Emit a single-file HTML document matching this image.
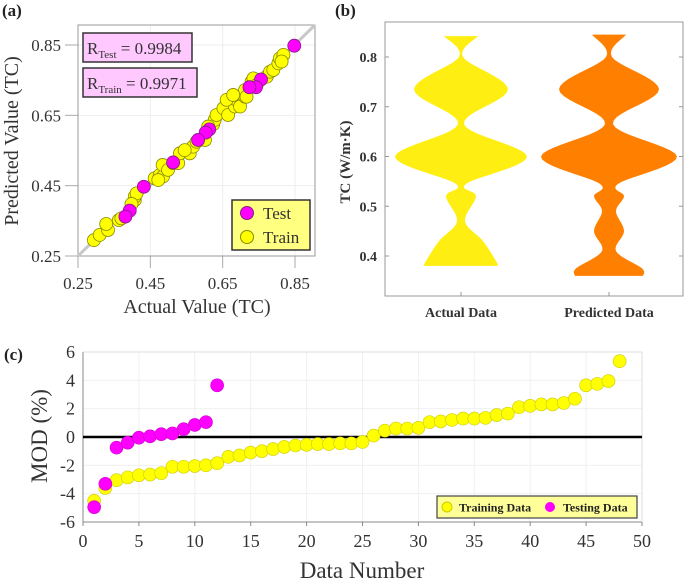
<!DOCTYPE html>
<html><head><meta charset="utf-8"><style>
html,body{margin:0;padding:0;background:#fff;}
svg{display:block;}
svg text{font-family:"Liberation Serif","DejaVu Serif",serif;}
</style></head><body>
<svg id="fig" width="685" height="581" viewBox="0 0 685 581" xmlns="http://www.w3.org/2000/svg" font-family="Liberation Serif, DejaVu Serif, serif">
<g id="pa"></g>
<g id="pb"></g>
<g id="pc"></g>
</svg>
<script>
// ---------- Panel A data ----------
const aTicks = [0.25, 0.45, 0.65, 0.85];
const aTestX = [0.848,0.756,0.742,0.724,0.613,0.603,0.582,0.513,0.432,0.393,0.381];
const aTestY = [0.848,0.752,0.730,0.730,0.610,0.601,0.580,0.516,0.447,0.379,0.362];
const aTrainX = [0.294,0.310,0.333,0.328,0.363,0.370,0.407,0.407,0.412,0.462,0.476,0.485,0.484,0.499,0.513,0.527,0.532,0.559,0.568,0.578,0.601,0.624,0.628,0.633,0.652,0.665,0.684,0.688,0.698,0.712,0.712,0.716,0.730,0.735,0.744,0.772,0.781,0.790,0.804,0.808,0.818,0.813,0.661,0.679,0.610,0.545,0.472,0.398];
const aTrainY = [0.295,0.310,0.324,0.341,0.352,0.357,0.409,0.419,0.428,0.471,0.480,0.476,0.509,0.495,0.514,0.514,0.542,0.542,0.561,0.575,0.580,0.625,0.637,0.651,0.670,0.651,0.675,0.694,0.675,0.703,0.722,0.703,0.746,0.755,0.736,0.760,0.774,0.779,0.798,0.812,0.822,0.803,0.694,0.708,0.618,0.551,0.466,0.398];
// ---------- Panel B data ----------
const bTicks = [0.4,0.5,0.6,0.7,0.8];
const bCats = ["Actual Data","Predicted Data"];
const bActualVals = [0.38,0.39,0.43,0.47,0.52,0.545,0.60,0.665,0.735,0.80,0.842];
const bActualDens = [37,35,22,4,15,5,66,3,47,2,17];
const bPredVals = [0.36,0.375,0.41,0.45,0.49,0.52,0.545,0.60,0.665,0.735,0.80,0.845];
const bPredDens = [34,33,7,15,7,15,9,68,4,50,3,17];
// ---------- Panel C data ----------
const cTicksX = [0,5,10,15,20,25,30,35,40,45,50];
const cTicksY = [6,4,2,0,-2,-4,-6];
const cTrain = [-4.5,-3.6,-3.05,-2.85,-2.7,-2.65,-2.55,-2.1,-2.1,-2.05,-2.0,-1.85,-1.4,-1.3,-1.1,-1.0,-0.85,-0.7,-0.6,-0.55,-0.5,-0.5,-0.45,-0.45,-0.35,0.1,0.45,0.6,0.6,0.65,1.05,1.1,1.2,1.3,1.3,1.35,1.55,1.65,2.1,2.2,2.3,2.3,2.4,2.7,3.65,3.75,3.95,5.35];
const cTest = [-4.95,-3.3,-0.75,-0.4,-0.05,0.05,0.2,0.25,0.55,0.85,1.05,3.65];

const NS="http://www.w3.org/2000/svg";
const SERIF="Liberation Serif, DejaVu Serif, serif";
function mk(parent,tag,attrs,text){const e=document.createElementNS(NS,tag);if(tag==='text')e.setAttribute('font-family',SERIF);for(const k in attrs)e.setAttribute(k,attrs[k]);if(text!==undefined)e.textContent=text;parent.appendChild(e);return e;}

// ===== Panel A =====
(function(){
const g=document.getElementById('pa');
const L=78,R=315,T=25,B=256;
const sx=v=>L+(v-0.25)/0.6*217, sy=v=>B-(v-0.25)/0.6*211;
aTicks.forEach(t=>{
 if(t>0.25){mk(g,'line',{x1:sx(t),x2:sx(t),y1:T,y2:B,stroke:'#eee','stroke-width':1});
 mk(g,'line',{x1:L,x2:R,y1:sy(t),y2:sy(t),stroke:'#eee','stroke-width':1});}
 mk(g,'line',{x1:sx(t),x2:sx(t),y1:B,y2:B+12,stroke:'#aaa'});
 mk(g,'line',{x1:L-13,x2:L,y1:sy(t),y2:sy(t),stroke:'#aaa'});
 const tx=mk(g,'text',{x:sx(t),y:B+33,'text-anchor':'middle','font-size':17,fill:'#333'},t.toFixed(2));
 
 
 const ty=mk(g,'text',{x:61,y:sy(t)+6,'text-anchor':'end','font-size':17,fill:'#333'},t.toFixed(2));
 
 
});
const fr=mk(g,'rect',{x:L,y:T,width:R-L,height:B-T,fill:'none',stroke:'#999','stroke-width':1});


const d=mk(g,'line',{x1:L,y1:B,x2:R,y2:T,stroke:'#c8c8c8','stroke-width':3});


aTrainX.forEach((x,i)=>{const c=mk(g,'circle',{cx:sx(x),cy:sy(aTrainY[i]),r:6.5,fill:'#ffff00',stroke:'#8a8a00','stroke-width':0.8});
 
 });
aTestX.forEach((x,i)=>{const c=mk(g,'circle',{cx:sx(x),cy:sy(aTestY[i]),r:6.5,fill:'#ff00ff',stroke:'#802080','stroke-width':0.8});
 
 });
[[33,'Test','0.9984',109],[68,'Train','0.9971',114]].forEach(b=>{
 const bx=mk(g,'g',{});
 
 
 mk(bx,'rect',{x:83,y:b[0],width:b[3],height:29,fill:'#ffc8ff',stroke:'#333','stroke-width':1.5});
 const t=mk(bx,'text',{x:87,y:b[0]+21,'font-size':17,fill:'#333'});
 mk(t,'tspan',{},'R');mk(t,'tspan',{'font-size':11,dy:4},b[1]);mk(t,'tspan',{dy:-4},' = '+b[2]);
});
const lg=mk(g,'g',{});


mk(lg,'rect',{x:232,y:200,width:78,height:50,fill:'#ffff80',stroke:'#333','stroke-width':1.5});
mk(lg,'circle',{cx:247,cy:213,r:6.5,fill:'#ff00ff',stroke:'#802080'});
mk(lg,'text',{x:263,y:219,'font-size':17,fill:'#333'},'Test');
mk(lg,'circle',{cx:247,cy:237,r:6.5,fill:'#ffff00',stroke:'#8a8a00'});
mk(lg,'text',{x:263,y:243,'font-size':17,fill:'#333'},'Train');
const xl=mk(g,'text',{x:197,y:313,'text-anchor':'middle','font-size':20,fill:'#333'},'Actual Value (TC)');


const yl=mk(g,'text',{x:0,y:0,'text-anchor':'middle','font-size':20,fill:'#333',transform:'translate(18,141) rotate(-90)'},'Predicted Value (TC)');


const pl=mk(g,'text',{x:2,y:16,'font-size':17,'font-weight':'bold',fill:'#222'},'(a)');


})();

// ===== Panel B =====
(function(){
const g=document.getElementById('pb');
const L=385,R=683,T=22,B=296;
const sy=v=>256-(v-0.4)*497.5;
const cx=[461,609];
const fr=mk(g,'rect',{x:L,y:T,width:R-L,height:B-T,fill:'none',stroke:'#999','stroke-width':1});


bTicks.forEach(t=>{
 mk(g,'line',{x1:L,x2:L+4,y1:sy(t),y2:sy(t),stroke:'#999'});
 mk(g,'line',{x1:R,x2:R-4,y1:sy(t),y2:sy(t),stroke:'#999'});
 const tx=mk(g,'text',{x:L-8,y:sy(t)+5,'text-anchor':'end','font-size':14,'font-weight':'bold',fill:'#333'},t.toFixed(1));
 
 
});
function violin(vals,dens,c,color,name){
 const pts=vals.map((v,i)=>[dens[i],sy(v)]);
 function side(sign){
  let p=[];
  for(let i=0;i<pts.length-1;i++){
   const p0=pts[Math.max(0,i-1)],p1=pts[i],p2=pts[i+1],p3=pts[Math.min(pts.length-1,i+2)];
   for(let s=0;s<10;s++){const t=s/10,t2=t*t,t3=t2*t;
    const f=(a,b,cc,dd)=>0.5*((2*b)+(-a+cc)*t+(2*a-5*b+4*cc-dd)*t2+(-a+3*b-3*cc+dd)*t3);
    p.push([c+sign*Math.max(1,f(p0[0],p1[0],p2[0],p3[0])),f(p0[1],p1[1],p2[1],p3[1])]);}
  }
  p.push([c+sign*pts[pts.length-1][0],pts[pts.length-1][1]]);
  return p;
 }
 const r=side(1),l=side(-1).reverse();
 const all=r.concat(l);
 const path=mk(g,'path',{d:'M'+all.map(p=>p[0].toFixed(1)+','+p[1].toFixed(1)).join('L')+'Z',fill:color});
 
 
}
violin(bActualVals,bActualDens,cx[0],'#ffee11','violin-actual');
violin(bPredVals,bPredDens,cx[1],'#ff7f00','violin-predicted');
bCats.forEach((c,i)=>{
 mk(g,'line',{x1:cx[i],x2:cx[i],y1:B,y2:B-4,stroke:'#999'});
 const tx=mk(g,'text',{x:cx[i],y:317,'text-anchor':'middle','font-size':14,'font-weight':'bold',fill:'#333'},c);
 
 
});
const yl=mk(g,'text',{x:0,y:0,'text-anchor':'middle','font-size':15,'font-weight':'bold',fill:'#333',transform:'translate(350,162) rotate(-90)'},'TC (W/m·K)');


const pl=mk(g,'text',{x:335,y:16,'font-size':17,'font-weight':'bold',fill:'#222'},'(b)');


})();

// ===== Panel C =====
(function(){
const g=document.getElementById('pc');
const L=83,R=642,T=352,B=522;
const sx=v=>L+v*(R-L)/50, sy=v=>437-v*14.17;
cTicksX.forEach(t=>{
 if(t>0&&t<50)mk(g,'line',{x1:sx(t),x2:sx(t),y1:T,y2:B,stroke:'#f0f0f0'});
 mk(g,'line',{x1:sx(t),x2:sx(t),y1:B,y2:B+4,stroke:'#888'});
 const tx=mk(g,'text',{x:sx(t),y:B+25,'text-anchor':'middle','font-size':18,fill:'#333'},String(t));
 
 
});
cTicksY.forEach(t=>{
 if(t!==0)mk(g,'line',{x1:L,x2:R,y1:sy(t),y2:sy(t),stroke:'#f0f0f0'});
 const tx=mk(g,'text',{x:L-8,y:sy(t)+6,'text-anchor':'end','font-size':18,fill:'#333'},String(t));
 
 
});
mk(g,'line',{x1:L,x2:L,y1:T,y2:B,stroke:'#888'});
mk(g,'line',{x1:L,x2:R,y1:B,y2:B,stroke:'#888'});
mk(g,'line',{x1:R,x2:R,y1:T,y2:B,stroke:'#ddd'});
mk(g,'line',{x1:L,x2:R,y1:T,y2:T,stroke:'#ddd'});
const z=mk(g,'line',{x1:L,x2:R,y1:sy(0),y2:sy(0),stroke:'#000','stroke-width':2.5});


cTrain.forEach((v,i)=>{const c=mk(g,'circle',{cx:sx(i+1),cy:sy(v),r:6.5,fill:'#ffff00',stroke:'#cccc00','stroke-width':0.6});
 
 });
cTest.forEach((v,i)=>{const c=mk(g,'circle',{cx:sx(i+1),cy:sy(v),r:6.5,fill:'#ff00ff',stroke:'#cc00cc','stroke-width':0.6});
 
 });
const lg=mk(g,'g',{});


mk(lg,'rect',{x:437,y:496,width:200,height:22,fill:'#ffff99',stroke:'#444','stroke-width':1.2});
mk(lg,'circle',{cx:447,cy:507,r:5,fill:'#ffff00',stroke:'#cccc00'});
mk(lg,'text',{x:459,y:511.5,'font-size':12,'font-weight':'bold',fill:'#222'},'Training Data');
mk(lg,'circle',{cx:550,cy:507,r:5,fill:'#ff00ff'});
mk(lg,'text',{x:563,y:511.5,'font-size':12,'font-weight':'bold',fill:'#222'},'Testing Data');
const xl=mk(g,'text',{x:362,y:578,'text-anchor':'middle','font-size':23,fill:'#333'},'Data Number');


const yl=mk(g,'text',{x:0,y:0,'text-anchor':'middle','font-size':23,fill:'#333',transform:'translate(47,436) rotate(-90)'},'MOD (%)');


const pl=mk(g,'text',{x:4,y:360,'font-size':17,'font-weight':'bold',fill:'#222'},'(c)');


})();
</script>
</body></html>
